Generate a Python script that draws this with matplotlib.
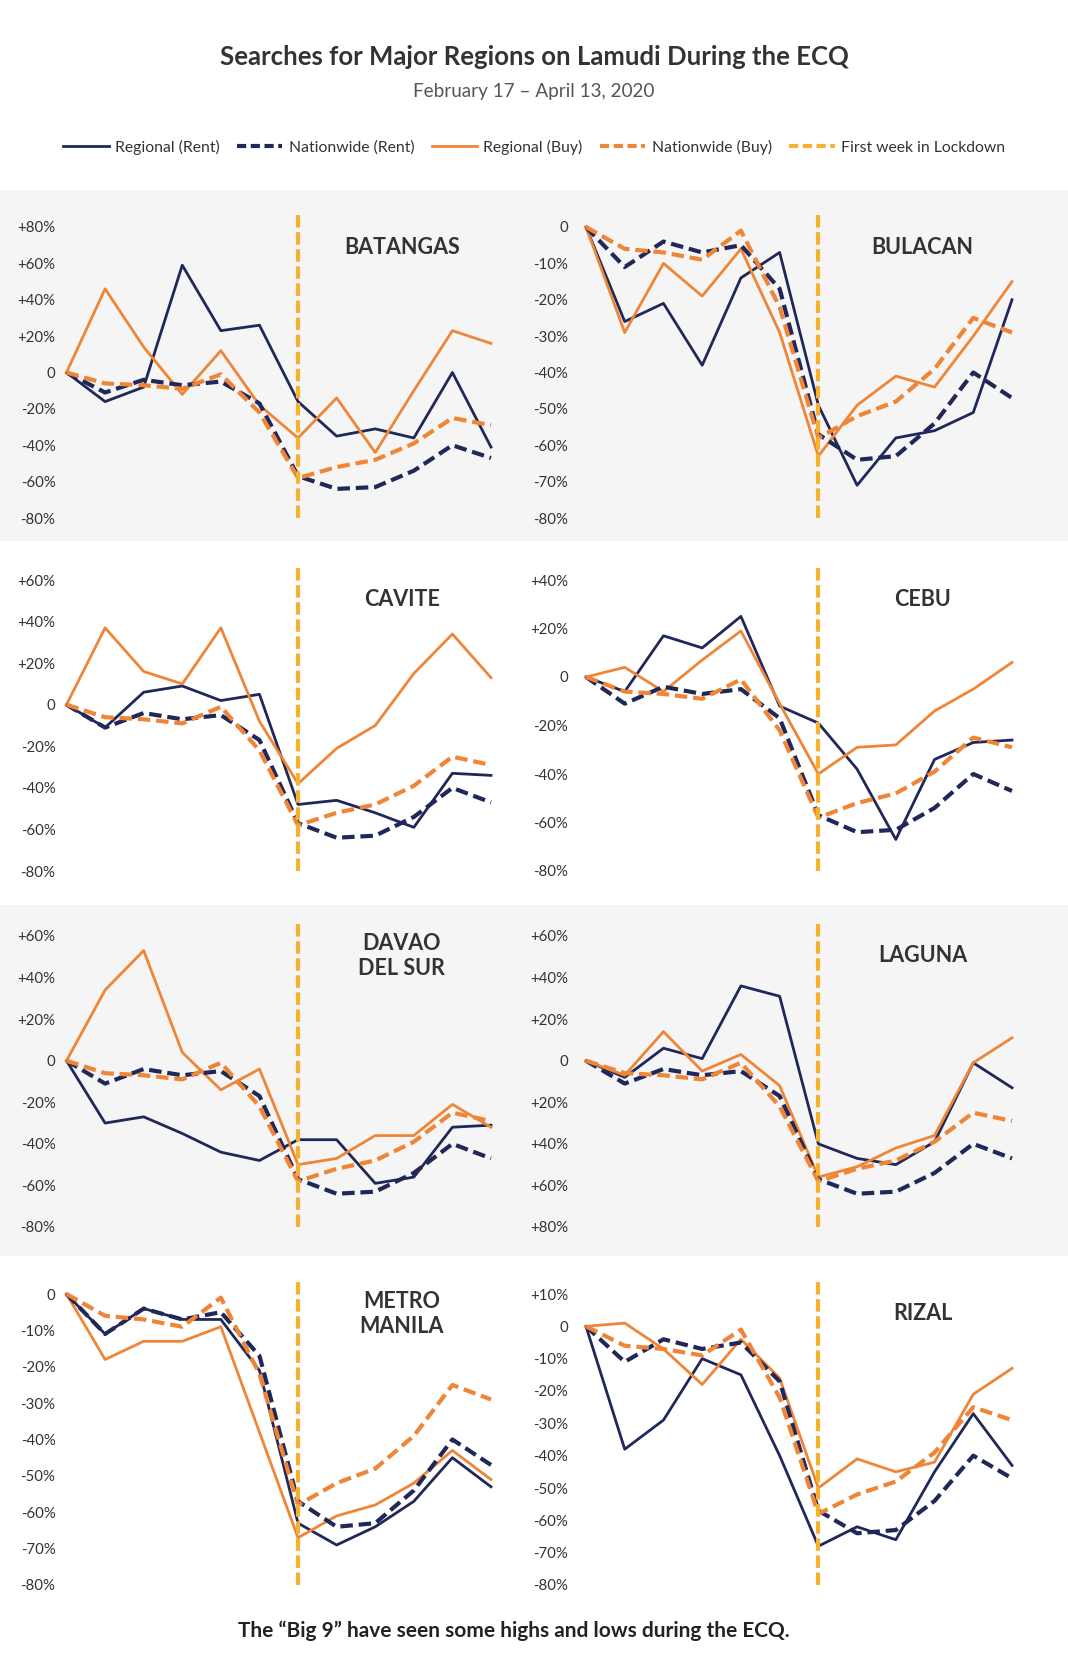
import matplotlib
matplotlib.use("Agg")
import matplotlib.pyplot as plt
from matplotlib.lines import Line2D
from matplotlib.patches import Rectangle

plt.rcParams['font.family'] = ['Lato', 'DejaVu Sans']

# weekly points, Feb 17 - Apr 13 (week index 6 = first week in lockdown)
weeks = list(range(12))
lockdown_week = 6

# nationwide series (same in every panel)
nationwide_rent = [0, -11, -4, -7, -5, -17, -57, -64, -63, -54, -40, -47]
nationwide_buy = [0, -6, -7, -9, -1, -22, -58, -52, -48, -39, -25, -29]

# regional series
batangas_rent = [0, -16, -8, 59, 23, 26, -16, -35, -31, -36, 0, -41]
batangas_buy = [0, 46, 14, -12, 12, -18, -36, -14, -44, -10, 23, 16]
bulacan_rent = [0, -26, -21, -38, -14, -7, -49, -71, -58, -56, -51, -20]
bulacan_buy = [0, -29, -10, -19, -6, -29, -63, -49, -41, -44, -30, -15]
cavite_rent = [0, -11, 6, 9, 2, 5, -48, -46, -52, -59, -33, -34]
cavite_buy = [0, 37, 16, 10, 37, -8, -38, -21, -10, 15, 34, 13]
cebu_rent = [0, -6, 17, 12, 25, -12, -19, -38, -67, -34, -27, -26]
cebu_buy = [0, 4, -6, 7, 19, -11, -40, -29, -28, -14, -5, 6]
davao_rent = [0, -30, -27, -35, -44, -48, -38, -38, -59, -56, -32, -31]
davao_buy = [0, 34, 53, 4, -14, -4, -50, -47, -36, -36, -21, -32]
laguna_rent = [0, -8, 6, 1, 36, 31, -40, -47, -50, -39, -1, -13]
laguna_buy = [0, -7, 14, -5, 3, -12, -56, -51, -42, -36, -1, 11]
manila_rent = [0, -11, -4, -7, -7, -21, -63, -69, -64, -57, -45, -53]
manila_buy = [0, -18, -13, -13, -9, -38, -67, -61, -58, -52, -43, -51]
rizal_rent = [0, -38, -29, -10, -15, -40, -68, -62, -66, -45, -27, -43]
rizal_buy = [0, 1, -7, -18, -4, -16, -50, -41, -45, -42, -21, -13]

# y tick values and labels per panel
ticks_80_80 = [80, 60, 40, 20, 0, -20, -40, -60, -80]
labels_80_80 = ['+80%', '+60%', '+40%', '+20%', '0', '-20%', '-40%', '-60%', '-80%']
ticks_0_80 = [0, -10, -20, -30, -40, -50, -60, -70, -80]
labels_0_80 = ['0', '-10%', '-20%', '-30%', '-40%', '-50%', '-60%', '-70%', '-80%']
ticks_60_80 = [60, 40, 20, 0, -20, -40, -60, -80]
labels_60_80 = ['+60%', '+40%', '+20%', '0', '-20%', '-40%', '-60%', '-80%']
ticks_40_80 = [40, 20, 0, -20, -40, -60, -80]
labels_40_80 = ['+40%', '+20%', '0', '-20%', '-40%', '-60%', '-80%']
labels_laguna = ['+60%', '+40%', '+20%', '0', '+20%', '+40%', '+60%', '+80%']
ticks_10_80 = [10, 0, -10, -20, -30, -40, -50, -60, -70, -80]
labels_10_80 = ['+10%', '0', '-10%', '-20%', '-30%', '-40%', '-50%', '-60%', '-70%', '-80%']

panels = [
    ('BATANGAS', batangas_rent, batangas_buy, ticks_80_80, labels_80_80),
    ('BULACAN', bulacan_rent, bulacan_buy, ticks_0_80, labels_0_80),
    ('CAVITE', cavite_rent, cavite_buy, ticks_60_80, labels_60_80),
    ('CEBU', cebu_rent, cebu_buy, ticks_40_80, labels_40_80),
    ('DAVAO\nDEL SUR', davao_rent, davao_buy, ticks_60_80, labels_60_80),
    ('LAGUNA', laguna_rent, laguna_buy, ticks_60_80, labels_laguna),
    ('METRO\nMANILA', manila_rent, manila_buy, ticks_0_80, labels_0_80),
    ('RIZAL', rizal_rent, rizal_buy, ticks_10_80, labels_10_80),
]

NAVY = '#1f2858'
ORANGE = '#ef8536'
YELLOW = '#f6b12e'
TEXT = '#333333'

W, H = 1068, 1680
fig = plt.figure(figsize=(W / 100, H / 100), dpi=100)
fig.patch.set_facecolor('white')

# grey bands behind rows 1 and 3
for top, bot in [(190, 541), (905, 1256)]:
    fig.add_artist(Rectangle((0, 1 - bot / H), 1, (bot - top) / H,
                             transform=fig.transFigure, facecolor='#f5f5f5',
                             edgecolor='none', zorder=0))

# layout in pixels: (top tick, bottom tick) per row, (left, right) per column
rows = [(227, 518), (580, 871), (936, 1227), (1294, 1585)]
cols = [(66.5, 491), (586, 1012)]
col_pad = [8, 13]
ext_px = 14

for i, (name, rent, buy, ticks, labels) in enumerate(panels):
    r, c = divmod(i, 2)
    top, bot = rows[r]
    left, right = cols[c]
    ax = fig.add_axes([left / W, 1 - bot / H, (right - left) / W, (bot - top + ext_px) / H])
    ax.patch.set_alpha(0)
    hi, lo = max(ticks), min(ticks)
    ax.set_ylim(lo, hi + (hi - lo) * ext_px / (bot - top))
    ax.set_xlim(0, len(weeks) - 1)

    ax.plot(weeks, rent, color=NAVY, lw=2, clip_on=False, zorder=3)
    ax.plot(weeks, buy, color=ORANGE, lw=2, clip_on=False, zorder=3)
    ax.plot(weeks, nationwide_rent, color=NAVY, lw=3, dashes=(3, 1.4), clip_on=False, zorder=4)
    ax.plot(weeks, nationwide_buy, color=ORANGE, lw=3, dashes=(3, 1.4), clip_on=False, zorder=4)
    ax.axvline(lockdown_week, color=YELLOW, lw=3, dashes=(3, 1.1), zorder=5)

    ax.set_xticks([])
    ax.set_yticks(ticks)
    ax.set_yticklabels(labels)
    ax.tick_params(axis='y', length=0, pad=col_pad[c], labelsize=10.8, labelcolor=TEXT)
    for s in ax.spines.values():
        s.set_visible(False)

    ax.text(0.79, 1 - 34 / (bot - top + ext_px), name, transform=ax.transAxes,
            ha='center', va='center', fontsize=15.5, fontweight='bold',
            color=TEXT, linespacing=1.2)

fig.text(0.5, 1 - 57 / H, 'Searches for Major Regions on Lamudi During the ECQ',
         ha='center', va='center', fontsize=18.5, fontweight='bold', color=TEXT)
fig.text(0.5, 1 - 91 / H, 'February 17 \u2013 April 13, 2020',
         ha='center', va='center', fontsize=13.6, color='#555555')

handles = [
    Line2D([], [], color=NAVY, lw=2),
    Line2D([], [], color=NAVY, lw=3, dashes=(2.2, 1.1)),
    Line2D([], [], color=ORANGE, lw=2),
    Line2D([], [], color=ORANGE, lw=3, dashes=(2.2, 1.1)),
    Line2D([], [], color=YELLOW, lw=3, dashes=(2.2, 1.1)),
]
names = ['Regional (Rent)', 'Nationwide (Rent)', 'Regional (Buy)',
         'Nationwide (Buy)', 'First week in Lockdown']
fig.legend(handles, names, loc='center', bbox_to_anchor=(0.5, 1 - 147 / H),
           ncol=5, frameon=False, fontsize=11.3, handlelength=2.9,
           handletextpad=0.4, columnspacing=1.1, labelcolor=TEXT)

fig.text(514 / W, 1 - 1631 / H, 'The \u201cBig 9\u201d have seen some highs and lows during the ECQ.',
         ha='center', va='center', fontsize=15, fontweight='bold', color='#222222')

fig.savefig('out.png', dpi=100, facecolor='white')
